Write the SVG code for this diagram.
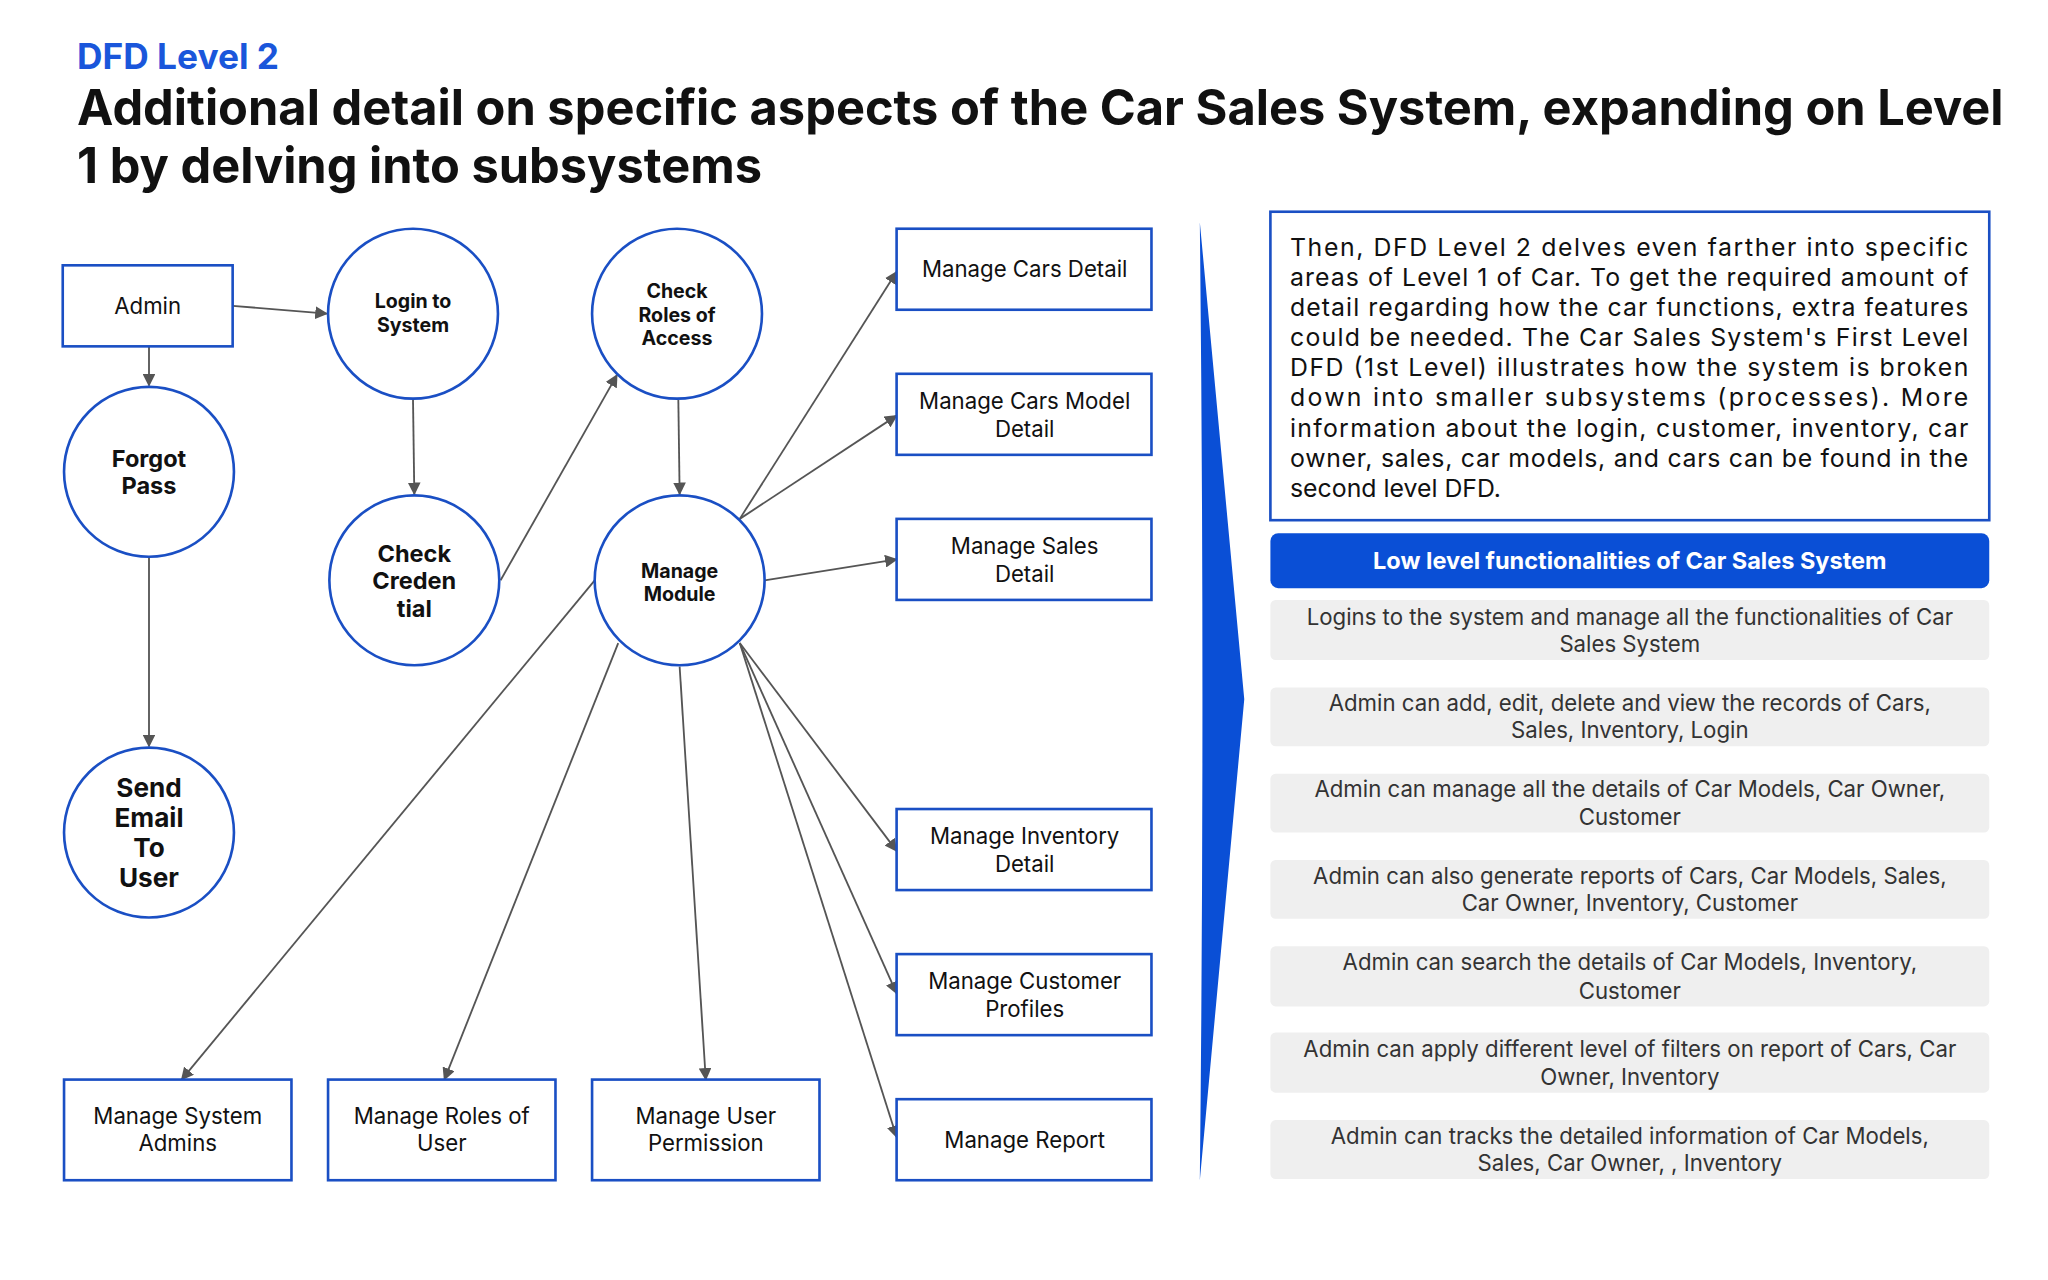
<svg xmlns="http://www.w3.org/2000/svg" width="2048" height="1280" viewBox="0 0 2048 1280">
<style>
.n{fill:#fff;stroke:#1a4fc4;stroke-width:2}
.t{font-family:Inter,"Noto Sans",sans-serif;fill:#111;text-anchor:middle}
.b{font-weight:700}
.c{stroke:#555;stroke-width:1.4;fill:none;marker-end:url(#a)}
.g{fill:#efefef}
.gt{font-family:Inter,"Noto Sans",sans-serif;font-size:17px;fill:#333;text-anchor:middle}
.p{font-family:Inter,"Noto Sans",sans-serif;font-size:19px;fill:#111}
</style>
<defs><marker id="a" viewBox="0 0 10 10" refX="9" refY="5" markerWidth="7" markerHeight="7" orient="auto-start-reverse"><path d="M0,0L10,5L0,10z" fill="#555"/></marker></defs>
<rect width="2048" height="1280" fill="#fff"/>
<g transform="scale(1.307,1.307)">
<text x="59" y="53" font-family="Inter,sans-serif" font-size="27" font-weight="700" fill="#1a56db">DFD Level 2</text>
<text font-family="Inter,sans-serif" font-size="37.3" font-weight="700" fill="#111"><tspan x="59" y="96">Additional detail on specific aspects of the Car Sales System, expanding on Level</tspan><tspan x="59" y="140">1 by delving into subsystems</tspan></text>
<g id="connectors">
<line class="c" x1="178" y1="234" x2="250" y2="240"/>
<line class="c" x1="114" y1="265" x2="114" y2="295"/>
<line class="c" x1="114" y1="427" x2="114" y2="571"/>
<line class="c" x1="316" y1="306" x2="317" y2="378"/>
<line class="c" x1="383" y1="444" x2="472" y2="287"/>
<line class="c" x1="519" y1="306" x2="520" y2="378"/>
<line class="c" x1="566" y1="397" x2="686" y2="208"/>
<line class="c" x1="566" y1="397" x2="686" y2="318"/>
<line class="c" x1="585" y1="444" x2="686" y2="428"/>
<line class="c" x1="566" y1="492" x2="686" y2="651"/>
<line class="c" x1="566" y1="492" x2="686" y2="760"/>
<line class="c" x1="566" y1="492" x2="686" y2="870"/>
<line class="c" x1="455" y1="444" x2="139" y2="826"/>
<line class="c" x1="473" y1="492" x2="340" y2="826"/>
<line class="c" x1="520" y1="510" x2="540" y2="826"/>
</g>
<g id="admin"><rect class="n" x="48" y="203" width="130" height="62"/><text class="t" x="113" y="240" font-size="17">Admin</text></g>
<g id="login"><circle class="n" cx="316" cy="240" r="65"/><text class="t b" font-size="15"><tspan x="316" y="236">Login to</tspan><tspan x="316" y="254">System</tspan></text></g>
<g id="roles"><circle class="n" cx="518" cy="240" r="65"/><text class="t b" font-size="15"><tspan x="518" y="228">Check</tspan><tspan x="518" y="246">Roles of</tspan><tspan x="518" y="264">Access</tspan></text></g>
<g id="forgot"><circle class="n" cx="114" cy="361" r="65"/><text class="t b" font-size="18"><tspan x="114" y="357">Forgot</tspan><tspan x="114" y="378">Pass</tspan></text></g>
<g id="cred"><circle class="n" cx="317" cy="444" r="65"/><text class="t b" font-size="18"><tspan x="317" y="430">Check</tspan><tspan x="317" y="451">Creden</tspan><tspan x="317" y="472">tial</tspan></text></g>
<g id="manage"><circle class="n" cx="520" cy="444" r="65"/><text class="t b" font-size="15"><tspan x="520" y="442">Manage</tspan><tspan x="520" y="460">Module</tspan></text></g>
<g id="email"><circle class="n" cx="114" cy="637" r="65"/><text class="t b" font-size="20"><tspan x="114" y="610">Send</tspan><tspan x="114" y="633">Email</tspan><tspan x="114" y="656">To</tspan><tspan x="114" y="679">User</tspan></text></g>
<g id="carsdetail"><rect class="n" x="686" y="175" width="195" height="62"/><text class="t" x="784" y="212" font-size="17">Manage Cars Detail</text></g>
<g id="carsmodel"><rect class="n" x="686" y="286" width="195" height="62"/><text class="t" font-size="17"><tspan x="784" y="313">Manage Cars Model</tspan><tspan x="784" y="334">Detail</tspan></text></g>
<g id="sales"><rect class="n" x="686" y="397" width="195" height="62"/><text class="t" font-size="17"><tspan x="784" y="424">Manage Sales</tspan><tspan x="784" y="445">Detail</tspan></text></g>
<g id="inventory"><rect class="n" x="686" y="619" width="195" height="62"/><text class="t" font-size="17"><tspan x="784" y="646">Manage Inventory</tspan><tspan x="784" y="667">Detail</tspan></text></g>
<g id="customer"><rect class="n" x="686" y="730" width="195" height="62"/><text class="t" font-size="17"><tspan x="784" y="757">Manage Customer</tspan><tspan x="784" y="778">Profiles</tspan></text></g>
<g id="report"><rect class="n" x="686" y="841" width="195" height="62"/><text class="t" x="784" y="878" font-size="17">Manage Report</text></g>
<g id="sysadmins"><rect class="n" x="49" y="826" width="174" height="77"/><text class="t" font-size="17"><tspan x="136" y="860">Manage System</tspan><tspan x="136" y="881">Admins</tspan></text></g>
<g id="rolesuser"><rect class="n" x="251" y="826" width="174" height="77"/><text class="t" font-size="17"><tspan x="338" y="860">Manage Roles of</tspan><tspan x="338" y="881">User</tspan></text></g>
<g id="userperm"><rect class="n" x="453" y="826" width="174" height="77"/><text class="t" font-size="17"><tspan x="540" y="860">Manage User</tspan><tspan x="540" y="881">Permission</tspan></text></g>
<path d="M918,170 L952,535 L918,903 Q922,535 918,170z" fill="#0a4fd6"/>
<g id="desc">
<rect x="972" y="162" width="550" height="236" fill="#fff" stroke="#1a4fc4" stroke-width="2"/>
<text class="p" lengthAdjust="spacing">
<tspan x="987" y="196" textLength="519">Then, DFD Level 2 delves even farther into specific</tspan>
<tspan x="987" y="219" textLength="519">areas of Level 1 of Car. To get the required amount of</tspan>
<tspan x="987" y="242" textLength="519">detail regarding how the car functions, extra features</tspan>
<tspan x="987" y="265" textLength="519">could be needed. The Car Sales System's First Level</tspan>
<tspan x="987" y="288" textLength="519">DFD (1st Level) illustrates how the system is broken</tspan>
<tspan x="987" y="311" textLength="519">down into smaller subsystems (processes). More</tspan>
<tspan x="987" y="334" textLength="519">information about the login, customer, inventory, car</tspan>
<tspan x="987" y="357" textLength="519">owner, sales, car models, and cars can be found in the</tspan>
<tspan x="987" y="380">second level DFD.</tspan>
</text>
</g>
<g id="header"><rect x="972" y="408" width="550" height="42" rx="6" fill="#0a4fd6"/><text x="1247" y="435" font-family="Inter,sans-serif" font-size="18" font-weight="700" fill="#fff" text-anchor="middle">Low level functionalities of Car Sales System</text></g>
<g id="f1"><rect class="g" x="972" y="459" width="550" height="46" rx="4"/><text class="gt"><tspan x="1247" y="478">Logins to the system and manage all the functionalities of Car</tspan><tspan x="1247" y="499">Sales System</tspan></text></g>
<g id="f2"><rect class="g" x="972" y="526" width="550" height="45" rx="4"/><text class="gt"><tspan x="1247" y="544">Admin can add, edit, delete and view the records of Cars,</tspan><tspan x="1247" y="565">Sales, Inventory, Login</tspan></text></g>
<g id="f3"><rect class="g" x="972" y="592" width="550" height="45" rx="4"/><text class="gt"><tspan x="1247" y="610">Admin can manage all the details of Car Models, Car Owner,</tspan><tspan x="1247" y="631">Customer</tspan></text></g>
<g id="f4"><rect class="g" x="972" y="658" width="550" height="45" rx="4"/><text class="gt"><tspan x="1247" y="676">Admin can also generate reports of Cars, Car Models, Sales,</tspan><tspan x="1247" y="697">Car Owner, Inventory, Customer</tspan></text></g>
<g id="f5"><rect class="g" x="972" y="724" width="550" height="46" rx="4"/><text class="gt"><tspan x="1247" y="742">Admin can search the details of Car Models, Inventory,</tspan><tspan x="1247" y="764">Customer</tspan></text></g>
<g id="f6"><rect class="g" x="972" y="790" width="550" height="46" rx="4"/><text class="gt"><tspan x="1247" y="809">Admin can apply different level of filters on report of Cars, Car</tspan><tspan x="1247" y="830">Owner, Inventory</tspan></text></g>
<g id="f7"><rect class="g" x="972" y="857" width="550" height="45" rx="4"/><text class="gt"><tspan x="1247" y="875">Admin can tracks the detailed information of Car Models,</tspan><tspan x="1247" y="896">Sales, Car Owner, , Inventory</tspan></text></g>
</g>
</svg>
